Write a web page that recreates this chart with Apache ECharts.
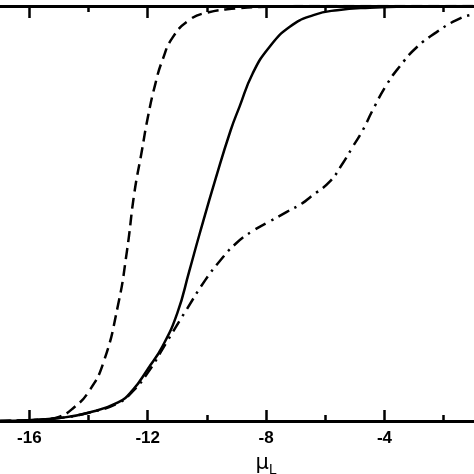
<!DOCTYPE html>
<html><head><meta charset="utf-8">
<script src="https://cdn.jsdelivr.net/npm/echarts@6/dist/echarts.min.js"></script>
<style>html,body{margin:0;padding:0;background:#fff}#c{width:474px;height:474px}</style>
</head><body><div id="c"></div>
<script>
var dashedX = [-17, -16, -15.5, -15, -14.5, -14, -13.5, -13, -12.7, -12.45, -12.2, -12, -11.75, -11.5, -11.15, -10.6, -10, -9, -8, -6, -1];
var dashedY = [0, 0.002, 0.004, 0.01, 0.032, 0.07, 0.14, 0.28, 0.41, 0.55, 0.65, 0.73, 0.81, 0.87, 0.925, 0.966, 0.984, 0.994, 0.998, 1.0, 1.0];

var solidX = [-17, -16, -15, -14, -13, -12.5, -12, -11.5, -11, -10.6, -10.25, -9.7, -9.2, -8.9, -8.45, -7.9, -7.2, -6.4, -5.6, -4.5, -3, -1];
var solidY = [0, 0.002, 0.007, 0.02, 0.045, 0.075, 0.125, 0.18, 0.26, 0.36, 0.45, 0.585, 0.70, 0.757, 0.838, 0.9, 0.95, 0.978, 0.99, 0.996, 0.999, 1.0];

var dashDotX = [-17, -16, -15, -14, -13, -12.5, -12, -11.36, -10.7, -10.05, -9.57, -9, -8.45, -7.9, -7.3, -6.77, -6.5, -5.86, -5.42, -5.08, -4.74, -4.4, -3.93, -3.5, -2.92, -2.24, -1.57, -1, 0];
var dashDotY = [0, 0.002, 0.007, 0.02, 0.043, 0.072, 0.116, 0.19, 0.267, 0.34, 0.385, 0.429, 0.458, 0.48, 0.504, 0.525, 0.54, 0.576, 0.62, 0.66, 0.70, 0.749, 0.81, 0.853, 0.9, 0.937, 0.966, 0.98, 0.99];

var xTicks = {min: -20, max: 4, interval: 4};

function pairs(xs, ys) { return xs.map(function (x, i) { return [x, ys[i]]; }); }

var chart = echarts.init(document.getElementById('c'));
var tickStyle = {color: '#000', width: 2.5};
chart.setOption({
  animation: false,
  backgroundColor: '#fff',
  grid: {left: -89.1, top: 6, width: 710.4, height: 415, containLabel: false, outerBoundsMode: 'none'},
  xAxis: [{
    type: 'value', position: 'bottom', min: xTicks.min, max: xTicks.max, interval: xTicks.interval,
    axisLine: {show: true, onZero: false, lineStyle: {color: '#000', width: 3}},
    axisTick: {show: true, inside: true, length: 11, lineStyle: tickStyle},
    minorTick: {show: true, splitNumber: 2, length: 6, lineStyle: tickStyle},
    splitLine: {show: false},
    axisLabel: {color: '#000', fontSize: 17, fontWeight: 'bold', fontFamily: 'Liberation Sans, Arial, sans-serif', margin: 9},
    name: '{m|μ}{s|L}', nameLocation: 'middle', nameGap: 30,
    nameTextStyle: {rich: {
      m: {fontSize: 21, color: '#000', fontFamily: 'DejaVu Sans, sans-serif'},
      s: {fontSize: 14, color: '#000', fontFamily: 'Liberation Sans, Arial, sans-serif', padding: [12, 0, 0, 0]}
    }}
  }, {
    type: 'value', position: 'top', min: xTicks.min, max: xTicks.max, interval: xTicks.interval,
    axisLine: {show: true, onZero: false, lineStyle: {color: '#000', width: 3}},
    axisTick: {show: true, inside: true, length: 12, lineStyle: tickStyle},
    minorTick: {show: true, splitNumber: 2, length: 6, lineStyle: tickStyle},
    splitLine: {show: false},
    axisLabel: {show: false}
  }],
  yAxis: {type: 'value', min: 0, max: 1, show: false},
  series: [
    {type: 'line', data: pairs(dashedX, dashedY), smooth: 0.5, showSymbol: false,
     lineStyle: {color: '#000', width: 2.5, type: [11, 6]}},
    {type: 'line', data: pairs(solidX, solidY), smooth: 0.5, showSymbol: false,
     lineStyle: {color: '#000', width: 2.5, type: 'solid'}},
    {type: 'line', data: pairs(dashDotX, dashDotY), smooth: 0.5, showSymbol: false,
     lineStyle: {color: '#000', width: 2.5, type: [12, 6, 2.5, 6]}}
  ]
});
</script></body></html>
